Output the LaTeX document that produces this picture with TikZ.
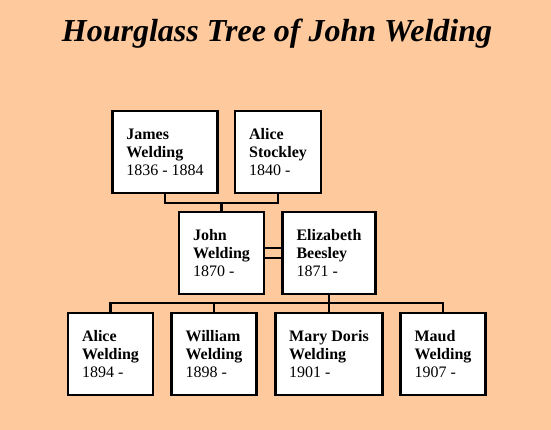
\documentclass[tikz,border=0pt]{standalone}
\usepackage{fontspec}
\setmainfont{Liberation Serif}
\definecolor{peach}{HTML}{FFC99E}
\tikzset{
    person/.style={rectangle, draw, line width=2.6pt, fill=white, minimum height=82pt,
        inner xsep=14pt, align=left, font=\fontsize{16}{18}\selectfont},
    link/.style={line width=2.2pt}
}

\begin{document}
\begin{tikzpicture}[x=1pt, y=-1pt]
        \fill[peach] (0,0) rectangle (551,430);
        \useasboundingbox (0,0) rectangle (551,430);
        \node[font=\fontsize{32}{34}\selectfont\bfseries\itshape] (title) at (277,34) {Hourglass Tree of John Welding};

        \node[person] (james) at (165,152) {\textbf{James}\\\textbf{Welding}\\1836 - 1884};
        \node[person] (alices) at (278,152) {\textbf{Alice}\\\textbf{Stockley}\\1840 -};
        \node[person] (john) at (221.5,253) {\textbf{John}\\\textbf{Welding}\\1870 -};
        \node[person] (eliz) at (329,253) {\textbf{Elizabeth}\\\textbf{Beesley}\\1871 -};
        \node[person] (alicew) at (110.5,354) {\textbf{Alice}\\\textbf{Welding}\\1894 -};
        \node[person] (william) at (214,354) {\textbf{William}\\\textbf{Welding}\\1898 -};
        \node[person] (mary) at (329,354) {\textbf{Mary Doris}\\\textbf{Welding}\\1901 -};
        \node[person] (maud) at (443,354) {\textbf{Maud}\\\textbf{Welding}\\1907 -};

        \coordinate (pbar) at (221.5,203);
        \coordinate (cbar) at (329,303);

        % parents
        \draw[link] (james.south) -- (james.south |- pbar) -- (alices.south |- pbar) -- (alices.south);
        \draw[link] (pbar) -- (john.north);
        % marriage
        \draw[link] ([yshift=5pt]john.east) -- ([yshift=5pt]eliz.west);
        \draw[link] ([yshift=-5pt]john.east) -- ([yshift=-5pt]eliz.west);
        % children
        \draw[link] (eliz.south) -- (mary.north);
        \draw[link] (alicew.north) -- (alicew.north |- cbar) -- (maud.north |- cbar) -- (maud.north);
        \draw[link] (william.north) -- (william.north |- cbar);
    \end{tikzpicture}
\end{document}
